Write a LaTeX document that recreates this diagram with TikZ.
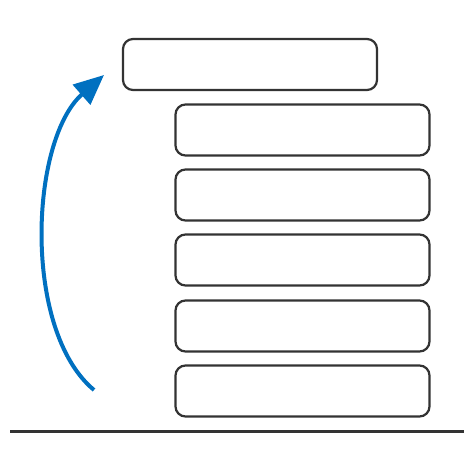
\documentclass[tikz,border=0pt]{standalone}
\usetikzlibrary{arrows.meta}
\definecolor{boxline}{HTML}{333333}
\definecolor{arrowblue}{HTML}{0070C0}
\begin{document}
\begin{tikzpicture}[x=1pt,y=-1pt,
  slab/.style={draw=boxline,line width=2.2pt,rounded corners=10pt,fill=white,minimum width=254pt,minimum height=51pt,inner sep=0pt},
  ground/.style={draw=boxline,line width=3pt},
  liftarrow/.style={draw=arrowblue,line width=4pt,-{Triangle[length=30pt,width=26pt]}}]
\useasboundingbox (0,0) rectangle (474,470);
\node[slab] (top) at (250,64.5) {};
\node[slab] (b1) at (302.5,130) {};
\node[slab] (b2) at (302.5,195) {};
\node[slab] (b3) at (302.5,260) {};
\node[slab] (b4) at (302.5,326) {};
\node[slab] (b5) at (302.5,391) {};
\coordinate (gl) at (10,431);
\coordinate (gr) at (464,431);
\draw[ground] (gl) -- (gr);
\coordinate (tail) at (94,390);
\coordinate (tip) at (104,75);
\draw[liftarrow] (tail) .. controls (22,330) and (30,140) .. (tip);
\end{tikzpicture}
\end{document}
